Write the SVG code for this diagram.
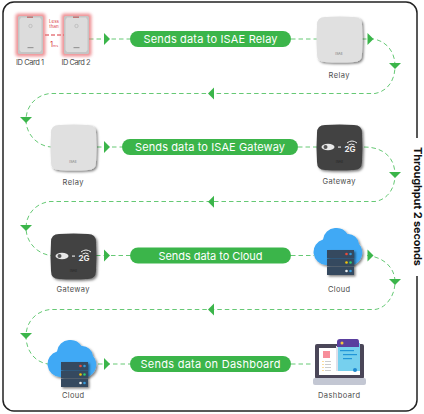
<svg xmlns="http://www.w3.org/2000/svg" width="424" height="414" viewBox="0 0 424 414">
<style>
text{font-family:"Inter","Open Sans","Liberation Sans",sans-serif}
.pill{fill:#3bb54a}
.pt{fill:#fff;font-size:11px;text-anchor:middle;dominant-baseline:central}
.lb{fill:#4d4d4d;font-size:7.5px;text-anchor:middle}
.dash{fill:none;stroke:#66c975;stroke-width:1;stroke-dasharray:4.500 3}
.ar{fill:#3bb54a}
.red{fill:#d9363e;text-anchor:middle}
</style>
<defs>
<filter id="sh" x="-30%" y="-30%" width="160%" height="160%"><feDropShadow dx="1.500" dy="1.500" stdDeviation="1.200" flood-color="#000" flood-opacity=".5"/></filter>
<filter id="glow" x="-40%" y="-40%" width="180%" height="180%"><feGaussianBlur stdDeviation="1.800"/></filter>
<g id="card">
<rect x="-2.500" y="-2.500" width="30" height="43" rx="3" fill="#e8666c" opacity=".7" filter="url(#glow)"/>
<rect x="0" y="0" width="25" height="38" rx="1.500" fill="#c4c4c4"/>
<path d="M3 1.500H22L23.500 4V34L22 36H3L1.500 34V4Z" fill="#dcdcdc"/>
<rect x="9" y="0.600" width="6" height="1.100" fill="#b55"/>
<circle cx="12.500" cy="10" r="1.700" fill="none" stroke="#a5a5a5" stroke-width=".5"/>
<rect x="9.500" y="31" width="6" height="1.200" fill="#999"/>
</g>
<path id="sq" d="M8 0Q22.500-1 37 0Q45 0 45 8Q46 22.500 45 37Q45 45 37 45Q22.500 46 8 45Q0 45 0 37Q-1 22.500 0 8Q0 0 8 0Z"/>
<g id="relay">
<use href="#sq" fill="#e0e0e0" filter="url(#sh)"/>
<text x="22" y="38" font-size="3.400" text-anchor="middle" fill="#777">ISAE</text>
</g>
<g id="gateway">
<use href="#sq" fill="#434343" filter="url(#sh)"/>
<ellipse cx="11" cy="22" rx="6.500" ry="3.200" fill="#e8e8e8"/>
<circle cx="8.500" cy="22" r="2" fill="#555"/>
<rect x="21" y="21.500" width="3" height="1.200" fill="#ddd"/>
<path d="M30 18q5-4 10 0M31.500 20q3-2 6 0" fill="none" stroke="#eee" stroke-width="1"/>
<text x="33" y="27" font-size="8" font-weight="700" fill="#eee" text-anchor="middle">2G</text>
<text x="22.500" y="38" font-size="3.400" text-anchor="middle" fill="#222">ISAE</text>
</g>
<g id="cloud">
<g fill="#3fa9f5" filter="url(#sh)"><path d="M-4 0A13 13 0 0 1 8.500 6A11 11 0 0 1 20 16A13 13 0 0 1 14 37H-13A13 13 0 0 1-16 11.500A13 13 0 0 1-4 0Z"/></g>
<g transform="translate(-12 22)" filter="url(#sh)">
<rect width="27" height="8" fill="#34495e"/><rect y="8.500" width="27" height="8" fill="#34495e"/><rect y="17" width="27" height="8" fill="#34495e"/>
<circle cx="19.500" cy="4" r="1.300" fill="#e74c3c"/><circle cx="23.500" cy="4" r="1.300" fill="#3498db"/>
<circle cx="19.500" cy="12.500" r="1.300" fill="#f1c40f"/><circle cx="23.500" cy="12.500" r="1.300" fill="#2ecc71"/>
<circle cx="19.500" cy="21" r="1.300" fill="#ecf0f1"/><circle cx="23.500" cy="21" r="1.300" fill="#3498db"/>
</g>
</g>
<path id="tr" d="M0-6L6 0L0 6Z"/>
<path id="td" d="M-6 0H6L0 6Z"/>
</defs>
<path d="M417 138V13A11 11 0 0 0 406 2H14A11 11 0 0 0 3 13V400A11 11 0 0 0 14 411H406A11 11 0 0 0 417 400V276" fill="none" stroke="#222" stroke-width="1.500"/>
<text x="418" y="206.500" font-size="11" font-weight="700" fill="#111" text-anchor="middle" dominant-baseline="central" transform="rotate(90 418 206.500)" textLength="119">Throughput 2 seconds</text>
<g id="connectors">
<path class="dash" d="M89 39H130M291 39H317M362 39H374C388 42 395 53 395 66C395 80 388 91 375 93.500H50C36 95 26 106 26 120C26 134 37 146 51 147M97 147H122M298 147H317M364 147C384 147 395 158 395 175C395 190 386 200 375 201.500H50C36 203 26 214 26 228C26 242 37 254 51 255.500M96 255.500H130M291 255.500H314M367 255.500C384 257 395 268 395 282C395 296 386 308 375 309.500H50C36 311 26 322 26 336C26 350 34 362 48 364M98 364H130M291 364H313"/>
<path d="M45 35H64" fill="none" stroke="#d9363e" stroke-width="1" stroke-dasharray="4 2"/>
<g class="ar">
<use href="#tr" x="104" y="39"/><use href="#tr" x="104" y="147"/><use href="#tr" x="104" y="255.500"/><use href="#tr" x="104" y="364"/>
<use href="#tr" x="367.500" y="39"/><use href="#tr" x="367.500" y="255.500"/>
<use href="#td" x="395" y="63"/><use href="#td" x="395" y="172"/><use href="#td" x="395" y="279"/>
<use href="#td" x="26" y="117"/><use href="#td" x="26" y="225"/><use href="#td" x="26" y="333"/>
<path d="M214 87.500V99.500L208 93.500Z"/>
<path d="M214 195.700V207.700L208 201.700Z"/>
<path d="M214 303.500V315.500L208 309.500Z"/>
</g>
</g>
<g id="id-cards">
<use href="#card" x="18" y="16"/><use href="#card" x="64" y="16"/>
<text class="lb" x="30" y="65" textLength="28">ID Card 1</text>
<text class="lb" x="76" y="65" textLength="29">ID Card 2</text>
<text class="red" x="54" y="23" font-size="4.500">Less</text>
<text class="red" x="54" y="28" font-size="4.500">than</text>
<text class="red" x="54" y="47" font-size="7.500">1<tspan font-size="3.500">ms</tspan></text>
</g>
<g id="step-relay"><rect class="pill" x="130" y="31" width="161" height="16" rx="8"/><text class="pt" x="210.500" y="39" textLength="134">Sends data to ISAE Relay</text></g>
<g id="relay-1"><use href="#relay" x="317" y="17"/><text class="lb" x="339" y="78" textLength="21">Relay</text></g>
<g id="relay-2"><use href="#relay" x="51" y="125"/><text class="lb" x="73" y="185" textLength="21">Relay</text></g>
<g id="step-gateway"><rect class="pill" x="122" y="139" width="176" height="16" rx="8"/><text class="pt" x="210" y="147" textLength="150">Sends data to ISAE Gateway</text></g>
<g id="gateway-1"><use href="#gateway" x="317" y="125"/><text class="lb" x="339" y="184" textLength="33">Gateway</text></g>
<g id="gateway-2"><use href="#gateway" x="51" y="234"/><text class="lb" x="73" y="292" textLength="33">Gateway</text></g>
<g id="step-cloud"><rect class="pill" x="130" y="247.500" width="161" height="16" rx="8"/><text class="pt" x="210.500" y="255.500" textLength="104">Sends data to Cloud</text></g>
<g id="cloud-1"><use href="#cloud" x="339" y="228"/><text class="lb" x="339" y="292" textLength="22">Cloud</text></g>
<g id="cloud-2"><use href="#cloud" x="73" y="340"/><text class="lb" x="73" y="398" textLength="22">Cloud</text></g>
<g id="step-dashboard"><rect class="pill" x="130" y="356" width="161" height="16" rx="8"/><text class="pt" x="210.500" y="364" textLength="140">Sends data on Dashboard</text></g>
<g id="dashboard">
<rect x="315" y="344" width="49" height="35" rx="2" fill="#4a4658"/>
<rect x="319" y="348" width="41" height="27" fill="#fff"/>
<rect x="313" y="378" width="53" height="7" rx="2" fill="#c3c7d3"/>
<rect x="323" y="351" width="7" height="7" fill="#f78e9a"/>
<g fill="#ccc"><rect x="325" y="361" width="6" height="1"/><rect x="325" y="364" width="6" height="1"/><rect x="325" y="367" width="6" height="1"/><rect x="325" y="370" width="6" height="1"/></g>
<g fill="#f5b83d"><rect x="322.500" y="361" width="1" height="1"/><rect x="322.500" y="364" width="1" height="1"/><rect x="322.500" y="367" width="1" height="1"/><rect x="322.500" y="370" width="1" height="1"/></g>
<rect x="336" y="346" width="22" height="25" fill="#dfe0ea"/>
<rect x="338" y="343" width="22" height="28" fill="#76d0ee"/>
<path d="M337 347V342Q337 339 340 339H357Q359 339 359 342V347Z" fill="#5a3f9e"/>
<circle cx="342" cy="343" r="1.500" fill="#f5c83d"/>
<g fill="#2196d8"><rect x="340" y="350" width="14" height="1.200"/><rect x="343" y="354" width="14" height="1.200"/><rect x="343" y="358" width="9" height="1.200"/></g>
<circle cx="355" cy="370" r="2" fill="#1e88d0"/>
<text class="lb" x="339" y="398" textLength="42">Dashboard</text>
</g>
</svg>
